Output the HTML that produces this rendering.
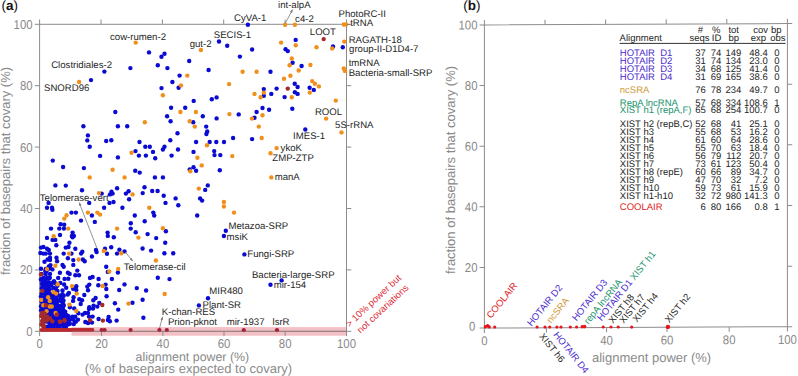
<!DOCTYPE html>
<html><head><meta charset="utf-8"><style>
html,body{margin:0;padding:0;background:#fff;overflow:hidden;width:798px;height:376px;}
svg{display:block;}
text{font-family:"Liberation Sans",sans-serif;text-rendering:geometricPrecision;}
.tk{font-size:11.4px;fill:#8a8a8a;}
.at{font-size:12.6px;fill:#8a8a8a;}
.lb{font-size:9.6px;fill:#262626;}
.rb{font-size:9.5px;}
.tb{font-size:9.5px;}
.an{font-size:9.5px;fill:#e0303a;}
.pl{font-size:13.5px;fill:#111;}
</style></head><body>
<svg width="798" height="376" viewBox="0 0 798 376">
<rect width="798" height="376" fill="#fff"/>
<rect x="71.5" y="327.1" width="275" height="8.6" fill="#eb9aa2" fill-opacity="0.62"/>
<rect x="39.6" y="24.3" width="306.9" height="307" fill="none" stroke="#8c8c8c" stroke-width="1"/>
<line x1="39.6" y1="331.3" x2="39.6" y2="336.1" stroke="#8c8c8c" stroke-width="1"/>
<line x1="39.6" y1="24.3" x2="39.6" y2="19.5" stroke="#8c8c8c" stroke-width="1"/>
<line x1="39.6" y1="331.3" x2="34.8" y2="331.3" stroke="#8c8c8c" stroke-width="1"/>
<line x1="346.5" y1="331.3" x2="351.3" y2="331.3" stroke="#8c8c8c" stroke-width="1"/>
<text transform="translate(32.6,335.8) scale(1,1.12)" text-anchor="end" class="tk">0</text>
<text transform="translate(39.6,348.3) scale(1,1.12)" text-anchor="middle" class="tk">0</text>
<line x1="101.6" y1="331.3" x2="101.6" y2="336.1" stroke="#8c8c8c" stroke-width="1"/>
<line x1="101" y1="24.3" x2="101" y2="19.5" stroke="#8c8c8c" stroke-width="1"/>
<line x1="39.6" y1="269.9" x2="34.8" y2="269.9" stroke="#8c8c8c" stroke-width="1"/>
<line x1="346.5" y1="269.9" x2="351.3" y2="269.9" stroke="#8c8c8c" stroke-width="1"/>
<text transform="translate(32.6,274.4) scale(1,1.12)" text-anchor="end" class="tk">20</text>
<text transform="translate(101.6,348.3) scale(1,1.12)" text-anchor="middle" class="tk">20</text>
<line x1="162.9" y1="331.3" x2="162.9" y2="336.1" stroke="#8c8c8c" stroke-width="1"/>
<line x1="162.4" y1="24.3" x2="162.4" y2="19.5" stroke="#8c8c8c" stroke-width="1"/>
<line x1="39.6" y1="208.5" x2="34.8" y2="208.5" stroke="#8c8c8c" stroke-width="1"/>
<line x1="346.5" y1="208.5" x2="351.3" y2="208.5" stroke="#8c8c8c" stroke-width="1"/>
<text transform="translate(32.6,213) scale(1,1.12)" text-anchor="end" class="tk">40</text>
<text transform="translate(162.9,348.3) scale(1,1.12)" text-anchor="middle" class="tk">40</text>
<line x1="224" y1="331.3" x2="224" y2="336.1" stroke="#8c8c8c" stroke-width="1"/>
<line x1="223.7" y1="24.3" x2="223.7" y2="19.5" stroke="#8c8c8c" stroke-width="1"/>
<line x1="39.6" y1="147.1" x2="34.8" y2="147.1" stroke="#8c8c8c" stroke-width="1"/>
<line x1="346.5" y1="147.1" x2="351.3" y2="147.1" stroke="#8c8c8c" stroke-width="1"/>
<text transform="translate(32.6,151.6) scale(1,1.12)" text-anchor="end" class="tk">60</text>
<text transform="translate(224,348.3) scale(1,1.12)" text-anchor="middle" class="tk">60</text>
<line x1="285.2" y1="331.3" x2="285.2" y2="336.1" stroke="#8c8c8c" stroke-width="1"/>
<line x1="285.1" y1="24.3" x2="285.1" y2="19.5" stroke="#8c8c8c" stroke-width="1"/>
<line x1="39.6" y1="85.7" x2="34.8" y2="85.7" stroke="#8c8c8c" stroke-width="1"/>
<line x1="346.5" y1="85.7" x2="351.3" y2="85.7" stroke="#8c8c8c" stroke-width="1"/>
<text transform="translate(32.6,90.2) scale(1,1.12)" text-anchor="end" class="tk">80</text>
<text transform="translate(285.2,348.3) scale(1,1.12)" text-anchor="middle" class="tk">80</text>
<line x1="346.5" y1="331.3" x2="346.5" y2="336.1" stroke="#8c8c8c" stroke-width="1"/>
<line x1="346.5" y1="24.3" x2="346.5" y2="19.5" stroke="#8c8c8c" stroke-width="1"/>
<line x1="39.6" y1="24.3" x2="34.8" y2="24.3" stroke="#8c8c8c" stroke-width="1"/>
<line x1="346.5" y1="24.3" x2="351.3" y2="24.3" stroke="#8c8c8c" stroke-width="1"/>
<text transform="translate(32.6,28.8) scale(1,1.12)" text-anchor="end" class="tk">100</text>
<text transform="translate(346.5,348.3) scale(1,1.12)" text-anchor="middle" class="tk">100</text>
<g>
<circle cx="41" cy="279.2" r="2.2" fill="#0a0ad2"/>
<circle cx="44.4" cy="278.8" r="2.2" fill="#0a0ad2"/>
<circle cx="47.1" cy="278.4" r="2.2" fill="#0a0ad2"/>
<circle cx="49.3" cy="278.4" r="2.2" fill="#0a0ad2"/>
<circle cx="43.4" cy="280.9" r="2.2" fill="#0a0ad2"/>
<circle cx="45.9" cy="282.1" r="2.2" fill="#0a0ad2"/>
<circle cx="48.4" cy="282.1" r="2.2" fill="#0a0ad2"/>
<circle cx="42" cy="283.6" r="2.2" fill="#0a0ad2"/>
<circle cx="43.8" cy="283.6" r="2.2" fill="#0a0ad2"/>
<circle cx="46.7" cy="284" r="2.2" fill="#0a0ad2"/>
<circle cx="49.7" cy="283.9" r="2.2" fill="#0a0ad2"/>
<circle cx="42.3" cy="285.9" r="2.2" fill="#0a0ad2"/>
<circle cx="45.6" cy="286" r="2.2" fill="#0a0ad2"/>
<circle cx="48.4" cy="286" r="2.2" fill="#0a0ad2"/>
<circle cx="41.8" cy="288.4" r="2.2" fill="#0a0ad2"/>
<circle cx="44.3" cy="289.3" r="2.2" fill="#0a0ad2"/>
<circle cx="46.8" cy="289.4" r="2.2" fill="#0a0ad2"/>
<circle cx="49.8" cy="289.1" r="2.2" fill="#0a0ad2"/>
<circle cx="42.9" cy="290.5" r="2.2" fill="#0a0ad2"/>
<circle cx="46.1" cy="291.3" r="2.2" fill="#0a0ad2"/>
<circle cx="48.2" cy="291.5" r="2.2" fill="#0a0ad2"/>
<circle cx="41.6" cy="293.6" r="2.2" fill="#0a0ad2"/>
<circle cx="44.9" cy="293.6" r="2.2" fill="#0a0ad2"/>
<circle cx="46.5" cy="293.9" r="2.2" fill="#0a0ad2"/>
<circle cx="50.6" cy="294.1" r="2.2" fill="#0a0ad2"/>
<circle cx="49.8" cy="283.2" r="2.2" fill="#0a0ad2"/>
<circle cx="52.9" cy="282.5" r="2.2" fill="#0a0ad2"/>
<circle cx="55.4" cy="283.4" r="2.2" fill="#0a0ad2"/>
<circle cx="51.1" cy="285.5" r="2.2" fill="#0a0ad2"/>
<circle cx="57.4" cy="285.7" r="2.2" fill="#0a0ad2"/>
<circle cx="53.5" cy="287.9" r="2.2" fill="#0a0ad2"/>
<circle cx="55.8" cy="288.8" r="2.2" fill="#0a0ad2"/>
<circle cx="54" cy="290.5" r="2.2" fill="#0a0ad2"/>
<circle cx="57.5" cy="291" r="2.2" fill="#0a0ad2"/>
<circle cx="49.3" cy="293.3" r="2.2" fill="#0a0ad2"/>
<circle cx="53.1" cy="294.1" r="2.2" fill="#0a0ad2"/>
<circle cx="56" cy="293.6" r="2.2" fill="#0a0ad2"/>
<circle cx="40.9" cy="296.6" r="2.2" fill="#0a0ad2"/>
<circle cx="44.8" cy="296.4" r="2.2" fill="#0a0ad2"/>
<circle cx="47" cy="295.4" r="2.2" fill="#0a0ad2"/>
<circle cx="49.3" cy="295.4" r="2.2" fill="#0a0ad2"/>
<circle cx="52.2" cy="295.8" r="2.2" fill="#0a0ad2"/>
<circle cx="54.8" cy="295.5" r="2.2" fill="#0a0ad2"/>
<circle cx="58.1" cy="295.3" r="2.2" fill="#0a0ad2"/>
<circle cx="61.3" cy="295.5" r="2.2" fill="#0a0ad2"/>
<circle cx="63.7" cy="295.8" r="2.2" fill="#0a0ad2"/>
<circle cx="43.4" cy="299.1" r="2.2" fill="#0a0ad2"/>
<circle cx="45.7" cy="297.9" r="2.2" fill="#0a0ad2"/>
<circle cx="48.3" cy="298.1" r="2.2" fill="#0a0ad2"/>
<circle cx="50.8" cy="297.8" r="2.2" fill="#0a0ad2"/>
<circle cx="54.1" cy="297.9" r="2.2" fill="#0a0ad2"/>
<circle cx="56.2" cy="298.5" r="2.2" fill="#0a0ad2"/>
<circle cx="60.2" cy="298.7" r="2.2" fill="#0a0ad2"/>
<circle cx="62.3" cy="298" r="2.2" fill="#0a0ad2"/>
<circle cx="41.5" cy="301.3" r="2.2" fill="#0a0ad2"/>
<circle cx="43.9" cy="301.3" r="2.2" fill="#0a0ad2"/>
<circle cx="47.6" cy="301.3" r="2.2" fill="#0a0ad2"/>
<circle cx="50.2" cy="300.5" r="2.2" fill="#0a0ad2"/>
<circle cx="52.5" cy="300.2" r="2.2" fill="#0a0ad2"/>
<circle cx="55.2" cy="300.5" r="2.2" fill="#0a0ad2"/>
<circle cx="58.9" cy="300.8" r="2.2" fill="#0a0ad2"/>
<circle cx="61.8" cy="301.5" r="2.2" fill="#0a0ad2"/>
<circle cx="63.5" cy="300.5" r="2.2" fill="#0a0ad2"/>
<circle cx="42.5" cy="303.5" r="2.2" fill="#0a0ad2"/>
<circle cx="46.2" cy="303.3" r="2.2" fill="#0a0ad2"/>
<circle cx="48.9" cy="302.7" r="2.2" fill="#0a0ad2"/>
<circle cx="51.9" cy="303.7" r="2.2" fill="#0a0ad2"/>
<circle cx="54.1" cy="302.9" r="2.2" fill="#0a0ad2"/>
<circle cx="56.7" cy="303.7" r="2.2" fill="#0a0ad2"/>
<circle cx="62.8" cy="302.8" r="2.2" fill="#0a0ad2"/>
<circle cx="41" cy="306.3" r="2.2" fill="#0a0ad2"/>
<circle cx="43.8" cy="306.2" r="2.2" fill="#0a0ad2"/>
<circle cx="47.3" cy="305.5" r="2.2" fill="#0a0ad2"/>
<circle cx="49.4" cy="305.1" r="2.2" fill="#0a0ad2"/>
<circle cx="52.9" cy="305.8" r="2.2" fill="#0a0ad2"/>
<circle cx="55.4" cy="306.3" r="2.2" fill="#0a0ad2"/>
<circle cx="57.9" cy="305.4" r="2.2" fill="#0a0ad2"/>
<circle cx="60.7" cy="305.9" r="2.2" fill="#0a0ad2"/>
<circle cx="63.8" cy="305.2" r="2.2" fill="#0a0ad2"/>
<circle cx="42.7" cy="308.1" r="2.2" fill="#0a0ad2"/>
<circle cx="46.3" cy="308.1" r="2.2" fill="#0a0ad2"/>
<circle cx="48.5" cy="308.2" r="2.2" fill="#0a0ad2"/>
<circle cx="50.6" cy="308.1" r="2.2" fill="#0a0ad2"/>
<circle cx="53.4" cy="308.6" r="2.2" fill="#0a0ad2"/>
<circle cx="56.9" cy="308.5" r="2.2" fill="#0a0ad2"/>
<circle cx="59.5" cy="308.2" r="2.2" fill="#0a0ad2"/>
<circle cx="62.9" cy="307.6" r="2.2" fill="#0a0ad2"/>
<circle cx="41.1" cy="310.3" r="2.2" fill="#0a0ad2"/>
<circle cx="44.3" cy="310.7" r="2.2" fill="#0a0ad2"/>
<circle cx="47.7" cy="310.5" r="2.2" fill="#0a0ad2"/>
<circle cx="49.9" cy="310.6" r="2.2" fill="#0a0ad2"/>
<circle cx="52.6" cy="310.7" r="2.2" fill="#0a0ad2"/>
<circle cx="56.1" cy="310.9" r="2.2" fill="#0a0ad2"/>
<circle cx="58.9" cy="310.3" r="2.2" fill="#0a0ad2"/>
<circle cx="61.7" cy="311.1" r="2.2" fill="#0a0ad2"/>
<circle cx="63.4" cy="310.5" r="2.2" fill="#0a0ad2"/>
<circle cx="45.6" cy="311.4" r="2.2" fill="#0a0ad2"/>
<circle cx="49.2" cy="312.6" r="2.2" fill="#0a0ad2"/>
<circle cx="51.9" cy="312.2" r="2.2" fill="#0a0ad2"/>
<circle cx="54.9" cy="312.7" r="2.2" fill="#0a0ad2"/>
<circle cx="57.8" cy="311.9" r="2.2" fill="#0a0ad2"/>
<circle cx="60.7" cy="312.5" r="2.2" fill="#0a0ad2"/>
<circle cx="62.7" cy="312" r="2.2" fill="#0a0ad2"/>
<circle cx="65.2" cy="311.7" r="2.2" fill="#0a0ad2"/>
<circle cx="46.7" cy="314.5" r="2.2" fill="#0a0ad2"/>
<circle cx="49.5" cy="314.2" r="2.2" fill="#0a0ad2"/>
<circle cx="53" cy="313.8" r="2.2" fill="#0a0ad2"/>
<circle cx="58.3" cy="313.8" r="2.2" fill="#0a0ad2"/>
<circle cx="61.1" cy="313.9" r="2.2" fill="#0a0ad2"/>
<circle cx="64.8" cy="314.9" r="2.2" fill="#0a0ad2"/>
<circle cx="66.5" cy="315" r="2.2" fill="#0a0ad2"/>
<circle cx="46.3" cy="316.3" r="2.2" fill="#0a0ad2"/>
<circle cx="49.1" cy="316.8" r="2.2" fill="#0a0ad2"/>
<circle cx="52.2" cy="317.1" r="2.2" fill="#0a0ad2"/>
<circle cx="53.8" cy="317.4" r="2.2" fill="#0a0ad2"/>
<circle cx="57.7" cy="316.8" r="2.2" fill="#0a0ad2"/>
<circle cx="60.1" cy="317.5" r="2.2" fill="#0a0ad2"/>
<circle cx="62.3" cy="316.9" r="2.2" fill="#0a0ad2"/>
<circle cx="65.1" cy="316.4" r="2.2" fill="#0a0ad2"/>
<circle cx="47" cy="319" r="2.2" fill="#0a0ad2"/>
<circle cx="50.6" cy="319" r="2.2" fill="#0a0ad2"/>
<circle cx="52.5" cy="319.1" r="2.2" fill="#0a0ad2"/>
<circle cx="55.5" cy="318.6" r="2.2" fill="#0a0ad2"/>
<circle cx="58.7" cy="318.9" r="2.2" fill="#0a0ad2"/>
<circle cx="62" cy="318.8" r="2.2" fill="#0a0ad2"/>
<circle cx="64.1" cy="319.3" r="2.2" fill="#0a0ad2"/>
<circle cx="66.9" cy="319.3" r="2.2" fill="#0a0ad2"/>
<circle cx="46.7" cy="321.5" r="2.2" fill="#0a0ad2"/>
<circle cx="49.1" cy="321.9" r="2.2" fill="#0a0ad2"/>
<circle cx="51.4" cy="321.1" r="2.2" fill="#0a0ad2"/>
<circle cx="53.8" cy="322.1" r="2.2" fill="#0a0ad2"/>
<circle cx="56.7" cy="321.2" r="2.2" fill="#0a0ad2"/>
<circle cx="60.5" cy="322" r="2.2" fill="#0a0ad2"/>
<circle cx="62.4" cy="321.5" r="2.2" fill="#0a0ad2"/>
<circle cx="65.1" cy="321.7" r="2.2" fill="#0a0ad2"/>
<circle cx="49.8" cy="324.8" r="2.2" fill="#0a0ad2"/>
<circle cx="52.8" cy="323.5" r="2.2" fill="#0a0ad2"/>
<circle cx="55.8" cy="324.2" r="2.2" fill="#0a0ad2"/>
<circle cx="58.6" cy="323.5" r="2.2" fill="#0a0ad2"/>
<circle cx="60.8" cy="324" r="2.2" fill="#0a0ad2"/>
<circle cx="63.5" cy="323.9" r="2.2" fill="#0a0ad2"/>
<circle cx="67.1" cy="324.2" r="2.2" fill="#0a0ad2"/>
<circle cx="46.2" cy="326.9" r="2.2" fill="#0a0ad2"/>
<circle cx="48.6" cy="326.4" r="2.2" fill="#0a0ad2"/>
<circle cx="51.1" cy="326.9" r="2.2" fill="#0a0ad2"/>
<circle cx="53.8" cy="327.1" r="2.2" fill="#0a0ad2"/>
<circle cx="57.4" cy="326.9" r="2.2" fill="#0a0ad2"/>
<circle cx="59.5" cy="326.6" r="2.2" fill="#0a0ad2"/>
<circle cx="63.3" cy="327" r="2.2" fill="#0a0ad2"/>
<circle cx="65.7" cy="327.2" r="2.2" fill="#0a0ad2"/>
<circle cx="66.3" cy="316.1" r="2.2" fill="#0a0ad2"/>
<circle cx="68.5" cy="316.3" r="2.2" fill="#0a0ad2"/>
<circle cx="72.5" cy="316.6" r="2.2" fill="#0a0ad2"/>
<circle cx="75.2" cy="316.8" r="2.2" fill="#0a0ad2"/>
<circle cx="66.8" cy="319.5" r="2.2" fill="#0a0ad2"/>
<circle cx="70.5" cy="319.2" r="2.2" fill="#0a0ad2"/>
<circle cx="72.9" cy="319.4" r="2.2" fill="#0a0ad2"/>
<circle cx="65.4" cy="321.4" r="2.2" fill="#0a0ad2"/>
<circle cx="68.6" cy="322.1" r="2.2" fill="#0a0ad2"/>
<circle cx="74.8" cy="321.7" r="2.2" fill="#0a0ad2"/>
<circle cx="67.9" cy="324.5" r="2.2" fill="#0a0ad2"/>
<circle cx="69.9" cy="323.8" r="2.2" fill="#0a0ad2"/>
<circle cx="73.8" cy="324.1" r="2.2" fill="#0a0ad2"/>
<circle cx="44.5" cy="261.7" r="2.2" fill="#0a0ad2"/>
<circle cx="50.5" cy="265.1" r="2.2" fill="#0a0ad2"/>
<circle cx="41" cy="268.8" r="2.2" fill="#0a0ad2"/>
<circle cx="45.8" cy="268.9" r="2.2" fill="#0a0ad2"/>
<circle cx="48.6" cy="268.7" r="2.2" fill="#0a0ad2"/>
<circle cx="46.6" cy="271" r="2.2" fill="#0a0ad2"/>
<circle cx="41.6" cy="274" r="2.2" fill="#0a0ad2"/>
<circle cx="45.7" cy="274" r="2.2" fill="#0a0ad2"/>
<circle cx="43.8" cy="277.9" r="2.2" fill="#0a0ad2"/>
<circle cx="47.5" cy="277.6" r="2.2" fill="#0a0ad2"/>
<circle cx="49.8" cy="277.6" r="2.2" fill="#0a0ad2"/>
<circle cx="149" cy="52.4" r="2.2" fill="#0a0ad2"/>
<circle cx="164.5" cy="53.8" r="2.2" fill="#0a0ad2"/>
<circle cx="161.5" cy="56.7" r="2.2" fill="#0a0ad2"/>
<circle cx="157.8" cy="65.2" r="2.2" fill="#0a0ad2"/>
<circle cx="167.4" cy="68.1" r="2.2" fill="#0a0ad2"/>
<circle cx="130.4" cy="68.1" r="2.2" fill="#0a0ad2"/>
<circle cx="104.4" cy="71.6" r="2.2" fill="#0a0ad2"/>
<circle cx="91" cy="80.1" r="2.2" fill="#0a0ad2"/>
<circle cx="189.2" cy="61" r="2.2" fill="#0a0ad2"/>
<circle cx="219" cy="41.5" r="2.2" fill="#0a0ad2"/>
<circle cx="227.2" cy="45.8" r="2.2" fill="#0a0ad2"/>
<circle cx="208.6" cy="70" r="2.2" fill="#0a0ad2"/>
<circle cx="179.6" cy="75.6" r="2.2" fill="#0a0ad2"/>
<circle cx="172.4" cy="82" r="2.2" fill="#0a0ad2"/>
<circle cx="178.6" cy="87.8" r="2.2" fill="#0a0ad2"/>
<circle cx="161.5" cy="88.1" r="2.2" fill="#0a0ad2"/>
<circle cx="193.7" cy="100.9" r="2.2" fill="#0a0ad2"/>
<circle cx="211.8" cy="99.3" r="2.2" fill="#0a0ad2"/>
<circle cx="216.6" cy="97.4" r="2.2" fill="#0a0ad2"/>
<circle cx="171.1" cy="107.8" r="2.2" fill="#0a0ad2"/>
<circle cx="185.2" cy="107.8" r="2.2" fill="#0a0ad2"/>
<circle cx="115.3" cy="112" r="2.2" fill="#0a0ad2"/>
<circle cx="202.8" cy="116.3" r="2.2" fill="#0a0ad2"/>
<circle cx="238.7" cy="114.4" r="2.2" fill="#0a0ad2"/>
<circle cx="167.1" cy="116.3" r="2.2" fill="#0a0ad2"/>
<circle cx="216.6" cy="118.4" r="2.2" fill="#0a0ad2"/>
<circle cx="247.9" cy="24.7" r="2.2" fill="#0a0ad2"/>
<circle cx="295.7" cy="39.9" r="2.2" fill="#0a0ad2"/>
<circle cx="333" cy="46.5" r="2.2" fill="#0a0ad2"/>
<circle cx="342.8" cy="47.2" r="2.2" fill="#0a0ad2"/>
<circle cx="252.1" cy="49.5" r="2.2" fill="#0a0ad2"/>
<circle cx="285.6" cy="49.2" r="2.2" fill="#0a0ad2"/>
<circle cx="287.8" cy="51.1" r="2.2" fill="#0a0ad2"/>
<circle cx="239.9" cy="56.6" r="2.2" fill="#0a0ad2"/>
<circle cx="292.6" cy="62.8" r="2.2" fill="#0a0ad2"/>
<circle cx="301.6" cy="66" r="2.2" fill="#0a0ad2"/>
<circle cx="270.5" cy="71.8" r="2.2" fill="#0a0ad2"/>
<circle cx="294.7" cy="83.8" r="2.2" fill="#0a0ad2"/>
<circle cx="297.6" cy="87" r="2.2" fill="#0a0ad2"/>
<circle cx="309.6" cy="87.8" r="2.2" fill="#0a0ad2"/>
<circle cx="313.8" cy="89.9" r="2.2" fill="#0a0ad2"/>
<circle cx="276.6" cy="88.6" r="2.2" fill="#0a0ad2"/>
<circle cx="263.8" cy="89.1" r="2.2" fill="#0a0ad2"/>
<circle cx="294.9" cy="92.3" r="2.2" fill="#0a0ad2"/>
<circle cx="297.6" cy="93.9" r="2.2" fill="#0a0ad2"/>
<circle cx="271.3" cy="93.9" r="2.2" fill="#0a0ad2"/>
<circle cx="263.8" cy="95.7" r="2.2" fill="#0a0ad2"/>
<circle cx="284.6" cy="97.1" r="2.2" fill="#0a0ad2"/>
<circle cx="83.4" cy="126.3" r="2.2" fill="#0a0ad2"/>
<circle cx="117.9" cy="126.3" r="2.2" fill="#0a0ad2"/>
<circle cx="127.2" cy="126.3" r="2.2" fill="#0a0ad2"/>
<circle cx="170.6" cy="121.3" r="2.2" fill="#0a0ad2"/>
<circle cx="193.2" cy="122.3" r="2.2" fill="#0a0ad2"/>
<circle cx="206.2" cy="126.6" r="2.2" fill="#0a0ad2"/>
<circle cx="177.5" cy="133.2" r="2.2" fill="#0a0ad2"/>
<circle cx="207.2" cy="131.5" r="2.2" fill="#0a0ad2"/>
<circle cx="206.4" cy="134" r="2.2" fill="#0a0ad2"/>
<circle cx="87.9" cy="135.4" r="2.2" fill="#0a0ad2"/>
<circle cx="87.3" cy="140.4" r="2.2" fill="#0a0ad2"/>
<circle cx="89.7" cy="146.8" r="2.2" fill="#0a0ad2"/>
<circle cx="106.2" cy="141" r="2.2" fill="#0a0ad2"/>
<circle cx="111.3" cy="140.2" r="2.2" fill="#0a0ad2"/>
<circle cx="139.5" cy="142" r="2.2" fill="#0a0ad2"/>
<circle cx="170.3" cy="140.2" r="2.2" fill="#0a0ad2"/>
<circle cx="196.1" cy="142" r="2.2" fill="#0a0ad2"/>
<circle cx="209.7" cy="142" r="2.2" fill="#0a0ad2"/>
<circle cx="216.3" cy="142" r="2.2" fill="#0a0ad2"/>
<circle cx="224" cy="142" r="2.2" fill="#0a0ad2"/>
<circle cx="233.1" cy="138" r="2.2" fill="#0a0ad2"/>
<circle cx="145.3" cy="146.8" r="2.2" fill="#0a0ad2"/>
<circle cx="149.8" cy="146.8" r="2.2" fill="#0a0ad2"/>
<circle cx="135.5" cy="151.1" r="2.2" fill="#0a0ad2"/>
<circle cx="138.9" cy="155.6" r="2.2" fill="#0a0ad2"/>
<circle cx="145.9" cy="155.6" r="2.2" fill="#0a0ad2"/>
<circle cx="153" cy="151.9" r="2.2" fill="#0a0ad2"/>
<circle cx="155.2" cy="158.2" r="2.2" fill="#0a0ad2"/>
<circle cx="162.9" cy="149.5" r="2.2" fill="#0a0ad2"/>
<circle cx="164.5" cy="146.8" r="2.2" fill="#0a0ad2"/>
<circle cx="178" cy="149.5" r="2.2" fill="#0a0ad2"/>
<circle cx="171.6" cy="155.6" r="2.2" fill="#0a0ad2"/>
<circle cx="193.5" cy="151.9" r="2.2" fill="#0a0ad2"/>
<circle cx="214.2" cy="151.1" r="2.2" fill="#0a0ad2"/>
<circle cx="214.5" cy="155.1" r="2.2" fill="#0a0ad2"/>
<circle cx="220.3" cy="155.1" r="2.2" fill="#0a0ad2"/>
<circle cx="52.8" cy="160.6" r="2.2" fill="#0a0ad2"/>
<circle cx="100.1" cy="155.9" r="2.2" fill="#0a0ad2"/>
<circle cx="117.9" cy="157.4" r="2.2" fill="#0a0ad2"/>
<circle cx="63.1" cy="167" r="2.2" fill="#0a0ad2"/>
<circle cx="83.9" cy="168.1" r="2.2" fill="#0a0ad2"/>
<circle cx="135.2" cy="170.7" r="2.2" fill="#0a0ad2"/>
<circle cx="139.7" cy="172.6" r="2.2" fill="#0a0ad2"/>
<circle cx="154.9" cy="177.4" r="2.2" fill="#0a0ad2"/>
<circle cx="162.9" cy="177.4" r="2.2" fill="#0a0ad2"/>
<circle cx="193.5" cy="167.3" r="2.2" fill="#0a0ad2"/>
<circle cx="189.7" cy="169.4" r="2.2" fill="#0a0ad2"/>
<circle cx="196.1" cy="170.7" r="2.2" fill="#0a0ad2"/>
<circle cx="219.8" cy="170.2" r="2.2" fill="#0a0ad2"/>
<circle cx="55.4" cy="185.4" r="2.2" fill="#0a0ad2"/>
<circle cx="65.8" cy="185.6" r="2.2" fill="#0a0ad2"/>
<circle cx="82" cy="190.2" r="2.2" fill="#0a0ad2"/>
<circle cx="117.1" cy="188.3" r="2.2" fill="#0a0ad2"/>
<circle cx="111.5" cy="191.8" r="2.2" fill="#0a0ad2"/>
<circle cx="112.6" cy="193.6" r="2.2" fill="#0a0ad2"/>
<circle cx="110" cy="194.4" r="2.2" fill="#0a0ad2"/>
<circle cx="101.7" cy="193.6" r="2.2" fill="#0a0ad2"/>
<circle cx="125.9" cy="193.6" r="2.2" fill="#0a0ad2"/>
<circle cx="128.6" cy="191.2" r="2.2" fill="#0a0ad2"/>
<circle cx="144.5" cy="187.2" r="2.2" fill="#0a0ad2"/>
<circle cx="142.7" cy="193.1" r="2.2" fill="#0a0ad2"/>
<circle cx="152.2" cy="191" r="2.2" fill="#0a0ad2"/>
<circle cx="157.6" cy="191" r="2.2" fill="#0a0ad2"/>
<circle cx="163.7" cy="195.7" r="2.2" fill="#0a0ad2"/>
<circle cx="175.6" cy="198.4" r="2.2" fill="#0a0ad2"/>
<circle cx="207.8" cy="185.4" r="2.2" fill="#0a0ad2"/>
<circle cx="205.2" cy="189.9" r="2.2" fill="#0a0ad2"/>
<circle cx="200.1" cy="198.4" r="2.2" fill="#0a0ad2"/>
<circle cx="129.1" cy="199.2" r="2.2" fill="#0a0ad2"/>
<circle cx="262.5" cy="108" r="2.2" fill="#0a0ad2"/>
<circle cx="256.6" cy="112" r="2.2" fill="#0a0ad2"/>
<circle cx="269.1" cy="109.8" r="2.2" fill="#0a0ad2"/>
<circle cx="292.3" cy="108.8" r="2.2" fill="#0a0ad2"/>
<circle cx="254.5" cy="117.8" r="2.2" fill="#0a0ad2"/>
<circle cx="252.1" cy="139.1" r="2.2" fill="#0a0ad2"/>
<circle cx="305.3" cy="129.5" r="2.2" fill="#0a0ad2"/>
<circle cx="225.8" cy="230.7" r="2.2" fill="#0a0ad2"/>
<circle cx="223.9" cy="236" r="2.2" fill="#0a0ad2"/>
<circle cx="244.4" cy="254.4" r="2.2" fill="#0a0ad2"/>
<circle cx="281.6" cy="280.4" r="2.2" fill="#0a0ad2"/>
<circle cx="270.5" cy="284.7" r="2.2" fill="#0a0ad2"/>
<circle cx="208" cy="298.2" r="2.2" fill="#0a0ad2"/>
<circle cx="198.9" cy="305.4" r="2.2" fill="#0a0ad2"/>
<circle cx="48.6" cy="202.9" r="2.2" fill="#0a0ad2"/>
<circle cx="47" cy="207.7" r="2.2" fill="#0a0ad2"/>
<circle cx="52" cy="207.7" r="2.2" fill="#0a0ad2"/>
<circle cx="52.4" cy="209.7" r="2.2" fill="#0a0ad2"/>
<circle cx="89.2" cy="202.9" r="2.2" fill="#0a0ad2"/>
<circle cx="109.5" cy="202.9" r="2.2" fill="#0a0ad2"/>
<circle cx="113.5" cy="202" r="2.2" fill="#0a0ad2"/>
<circle cx="104.1" cy="207.7" r="2.2" fill="#0a0ad2"/>
<circle cx="122.4" cy="207.7" r="2.2" fill="#0a0ad2"/>
<circle cx="71.5" cy="212.6" r="2.2" fill="#0a0ad2"/>
<circle cx="75.9" cy="212.6" r="2.2" fill="#0a0ad2"/>
<circle cx="91.9" cy="215.5" r="2.2" fill="#0a0ad2"/>
<circle cx="81" cy="220.6" r="2.2" fill="#0a0ad2"/>
<circle cx="94.8" cy="221.9" r="2.2" fill="#0a0ad2"/>
<circle cx="134.8" cy="215.5" r="2.2" fill="#0a0ad2"/>
<circle cx="130.8" cy="223.2" r="2.2" fill="#0a0ad2"/>
<circle cx="60.6" cy="224.3" r="2.2" fill="#0a0ad2"/>
<circle cx="64.2" cy="224.8" r="2.2" fill="#0a0ad2"/>
<circle cx="51" cy="228.6" r="2.2" fill="#0a0ad2"/>
<circle cx="59.3" cy="228.6" r="2.2" fill="#0a0ad2"/>
<circle cx="63.9" cy="228.6" r="2.2" fill="#0a0ad2"/>
<circle cx="130.7" cy="228.6" r="2.2" fill="#0a0ad2"/>
<circle cx="135.7" cy="232.3" r="2.2" fill="#0a0ad2"/>
<circle cx="107.6" cy="232.6" r="2.2" fill="#0a0ad2"/>
<circle cx="107.8" cy="235.9" r="2.2" fill="#0a0ad2"/>
<circle cx="113.8" cy="237.2" r="2.2" fill="#0a0ad2"/>
<circle cx="60" cy="235" r="2.2" fill="#0a0ad2"/>
<circle cx="72.6" cy="232.6" r="2.2" fill="#0a0ad2"/>
<circle cx="71.9" cy="235.9" r="2.2" fill="#0a0ad2"/>
<circle cx="73.9" cy="235.9" r="2.2" fill="#0a0ad2"/>
<circle cx="72.6" cy="237.2" r="2.2" fill="#0a0ad2"/>
<circle cx="47" cy="237.9" r="2.2" fill="#0a0ad2"/>
<circle cx="52.6" cy="239.9" r="2.2" fill="#0a0ad2"/>
<circle cx="55.3" cy="239.9" r="2.2" fill="#0a0ad2"/>
<circle cx="202.1" cy="200.6" r="2.2" fill="#0a0ad2"/>
<circle cx="165.5" cy="202.9" r="2.2" fill="#0a0ad2"/>
<circle cx="178.3" cy="205.3" r="2.2" fill="#0a0ad2"/>
<circle cx="153.3" cy="212.6" r="2.2" fill="#0a0ad2"/>
<circle cx="154.2" cy="215.5" r="2.2" fill="#0a0ad2"/>
<circle cx="197.2" cy="215.5" r="2.2" fill="#0a0ad2"/>
<circle cx="144.7" cy="221.3" r="2.2" fill="#0a0ad2"/>
<circle cx="165.9" cy="231.2" r="2.2" fill="#0a0ad2"/>
<circle cx="147.6" cy="234.1" r="2.2" fill="#0a0ad2"/>
<circle cx="156.2" cy="238.1" r="2.2" fill="#0a0ad2"/>
<circle cx="165.2" cy="242.7" r="2.2" fill="#0a0ad2"/>
<circle cx="142.6" cy="248.5" r="2.2" fill="#0a0ad2"/>
<circle cx="151.1" cy="250.6" r="2.2" fill="#0a0ad2"/>
<circle cx="164.4" cy="253.3" r="2.2" fill="#0a0ad2"/>
<circle cx="173.2" cy="253.3" r="2.2" fill="#0a0ad2"/>
<circle cx="124.5" cy="251.4" r="2.2" fill="#0a0ad2"/>
<circle cx="157.8" cy="277.8" r="2.2" fill="#0a0ad2"/>
<circle cx="169.5" cy="279.1" r="2.2" fill="#0a0ad2"/>
<circle cx="124.5" cy="284.4" r="2.2" fill="#0a0ad2"/>
<circle cx="136.8" cy="288.1" r="2.2" fill="#0a0ad2"/>
<circle cx="146.1" cy="290.5" r="2.2" fill="#0a0ad2"/>
<circle cx="142.6" cy="299.8" r="2.2" fill="#0a0ad2"/>
<circle cx="132.5" cy="302.8" r="2.2" fill="#0a0ad2"/>
<circle cx="143.4" cy="317.7" r="2.2" fill="#0a0ad2"/>
<circle cx="69.4" cy="242.8" r="2.2" fill="#0a0ad2"/>
<circle cx="56.3" cy="245.2" r="2.2" fill="#0a0ad2"/>
<circle cx="41" cy="247.6" r="2.2" fill="#0a0ad2"/>
<circle cx="43.4" cy="247" r="2.2" fill="#0a0ad2"/>
<circle cx="47" cy="248.8" r="2.2" fill="#0a0ad2"/>
<circle cx="48.8" cy="250" r="2.2" fill="#0a0ad2"/>
<circle cx="40.4" cy="253" r="2.2" fill="#0a0ad2"/>
<circle cx="43.4" cy="253.6" r="2.2" fill="#0a0ad2"/>
<circle cx="45.8" cy="253.6" r="2.2" fill="#0a0ad2"/>
<circle cx="50" cy="253.6" r="2.2" fill="#0a0ad2"/>
<circle cx="65.8" cy="247.6" r="2.2" fill="#0a0ad2"/>
<circle cx="68.5" cy="247" r="2.2" fill="#0a0ad2"/>
<circle cx="75.3" cy="248.8" r="2.2" fill="#0a0ad2"/>
<circle cx="96" cy="250" r="2.2" fill="#0a0ad2"/>
<circle cx="96.6" cy="252.1" r="2.2" fill="#0a0ad2"/>
<circle cx="91.9" cy="256.5" r="2.2" fill="#0a0ad2"/>
<circle cx="105" cy="248.8" r="2.2" fill="#0a0ad2"/>
<circle cx="111.2" cy="247.3" r="2.2" fill="#0a0ad2"/>
<circle cx="107" cy="253.8" r="2.2" fill="#0a0ad2"/>
<circle cx="117" cy="253.6" r="2.2" fill="#0a0ad2"/>
<circle cx="119.4" cy="249.7" r="2.2" fill="#0a0ad2"/>
<circle cx="63.7" cy="253.6" r="2.2" fill="#0a0ad2"/>
<circle cx="71.5" cy="253.6" r="2.2" fill="#0a0ad2"/>
<circle cx="81.1" cy="253.6" r="2.2" fill="#0a0ad2"/>
<circle cx="82.3" cy="251.8" r="2.2" fill="#0a0ad2"/>
<circle cx="50" cy="257.7" r="2.2" fill="#0a0ad2"/>
<circle cx="47.6" cy="259.5" r="2.2" fill="#0a0ad2"/>
<circle cx="50" cy="260.1" r="2.2" fill="#0a0ad2"/>
<circle cx="56.5" cy="257.7" r="2.2" fill="#0a0ad2"/>
<circle cx="57.1" cy="261.3" r="2.2" fill="#0a0ad2"/>
<circle cx="67.9" cy="258.3" r="2.2" fill="#0a0ad2"/>
<circle cx="73.3" cy="260.1" r="2.2" fill="#0a0ad2"/>
<circle cx="82.9" cy="259.5" r="2.2" fill="#0a0ad2"/>
<circle cx="84.7" cy="261.3" r="2.2" fill="#0a0ad2"/>
<circle cx="73.3" cy="264.9" r="2.2" fill="#0a0ad2"/>
<circle cx="62.5" cy="264.9" r="2.2" fill="#0a0ad2"/>
<circle cx="63.7" cy="266.7" r="2.2" fill="#0a0ad2"/>
<circle cx="48.8" cy="266.5" r="2.2" fill="#0a0ad2"/>
<circle cx="50" cy="267.9" r="2.2" fill="#0a0ad2"/>
<circle cx="52.4" cy="269.4" r="2.2" fill="#0a0ad2"/>
<circle cx="45.2" cy="270.9" r="2.2" fill="#0a0ad2"/>
<circle cx="77.3" cy="270.6" r="2.2" fill="#0a0ad2"/>
<circle cx="106.2" cy="266.7" r="2.2" fill="#0a0ad2"/>
<circle cx="107.8" cy="271.9" r="2.2" fill="#0a0ad2"/>
<circle cx="117.9" cy="272.5" r="2.2" fill="#0a0ad2"/>
<circle cx="50" cy="273.9" r="2.2" fill="#0a0ad2"/>
<circle cx="59.9" cy="272.7" r="2.2" fill="#0a0ad2"/>
<circle cx="67.9" cy="272.7" r="2.2" fill="#0a0ad2"/>
<circle cx="69.7" cy="273.9" r="2.2" fill="#0a0ad2"/>
<circle cx="75.3" cy="275.3" r="2.2" fill="#0a0ad2"/>
<circle cx="79" cy="275.3" r="2.2" fill="#0a0ad2"/>
<circle cx="90" cy="278" r="2.2" fill="#0a0ad2"/>
<circle cx="92.6" cy="277" r="2.2" fill="#0a0ad2"/>
<circle cx="98.6" cy="279" r="2.2" fill="#0a0ad2"/>
<circle cx="111.9" cy="279" r="2.2" fill="#0a0ad2"/>
<circle cx="89.3" cy="284.6" r="2.2" fill="#0a0ad2"/>
<circle cx="87.3" cy="286.6" r="2.2" fill="#0a0ad2"/>
<circle cx="98.3" cy="285.3" r="2.2" fill="#0a0ad2"/>
<circle cx="105.6" cy="284.6" r="2.2" fill="#0a0ad2"/>
<circle cx="106.3" cy="289" r="2.2" fill="#0a0ad2"/>
<circle cx="119.2" cy="290" r="2.2" fill="#0a0ad2"/>
<circle cx="88" cy="290.3" r="2.2" fill="#0a0ad2"/>
<circle cx="76.3" cy="286.3" r="2.2" fill="#0a0ad2"/>
<circle cx="76.3" cy="290" r="2.2" fill="#0a0ad2"/>
<circle cx="84.3" cy="295" r="2.2" fill="#0a0ad2"/>
<circle cx="106.6" cy="296.3" r="2.2" fill="#0a0ad2"/>
<circle cx="95.6" cy="298" r="2.2" fill="#0a0ad2"/>
<circle cx="93.3" cy="300.3" r="2.2" fill="#0a0ad2"/>
<circle cx="79.3" cy="299.3" r="2.2" fill="#0a0ad2"/>
<circle cx="82" cy="300.3" r="2.2" fill="#0a0ad2"/>
<circle cx="80.7" cy="304" r="2.2" fill="#0a0ad2"/>
<circle cx="99.3" cy="303" r="2.2" fill="#0a0ad2"/>
<circle cx="97.3" cy="306.6" r="2.2" fill="#0a0ad2"/>
<circle cx="93.6" cy="305.6" r="2.2" fill="#0a0ad2"/>
<circle cx="93" cy="308.6" r="2.2" fill="#0a0ad2"/>
<circle cx="89.3" cy="307.3" r="2.2" fill="#0a0ad2"/>
<circle cx="89" cy="309" r="2.2" fill="#0a0ad2"/>
<circle cx="114.9" cy="303.3" r="2.2" fill="#0a0ad2"/>
<circle cx="118.2" cy="309.6" r="2.2" fill="#0a0ad2"/>
<circle cx="78.3" cy="313.3" r="2.2" fill="#0a0ad2"/>
<circle cx="82.6" cy="314.6" r="2.2" fill="#0a0ad2"/>
<circle cx="85" cy="313" r="2.2" fill="#0a0ad2"/>
<circle cx="88" cy="313" r="2.2" fill="#0a0ad2"/>
<circle cx="89" cy="316.6" r="2.2" fill="#0a0ad2"/>
<circle cx="92.6" cy="316.6" r="2.2" fill="#0a0ad2"/>
<circle cx="78" cy="319.6" r="2.2" fill="#0a0ad2"/>
<circle cx="76" cy="321.6" r="2.2" fill="#0a0ad2"/>
<circle cx="98.6" cy="319" r="2.2" fill="#0a0ad2"/>
<circle cx="108.6" cy="317" r="2.2" fill="#0a0ad2"/>
<circle cx="107.9" cy="320" r="2.2" fill="#0a0ad2"/>
<circle cx="109.9" cy="321.3" r="2.2" fill="#0a0ad2"/>
<circle cx="116.6" cy="320.6" r="2.2" fill="#0a0ad2"/>
<circle cx="85.3" cy="322" r="2.2" fill="#0a0ad2"/>
<circle cx="88" cy="323" r="2.2" fill="#0a0ad2"/>
<circle cx="92" cy="322.6" r="2.2" fill="#0a0ad2"/>
<circle cx="58.2" cy="277.9" r="2.2" fill="#0a0ad2"/>
<circle cx="64.6" cy="278.9" r="2.2" fill="#0a0ad2"/>
<circle cx="68.3" cy="278.7" r="2.2" fill="#0a0ad2"/>
<circle cx="48.6" cy="278.1" r="2.2" fill="#0a0ad2"/>
<circle cx="41.2" cy="279.7" r="2.2" fill="#0a0ad2"/>
<circle cx="44.4" cy="279.2" r="2.2" fill="#0a0ad2"/>
<circle cx="54" cy="281.3" r="2.2" fill="#0a0ad2"/>
<circle cx="60.3" cy="282.9" r="2.2" fill="#0a0ad2"/>
<circle cx="64.1" cy="284.5" r="2.2" fill="#0a0ad2"/>
<circle cx="66.2" cy="287.7" r="2.2" fill="#0a0ad2"/>
<circle cx="73.1" cy="288.8" r="2.2" fill="#0a0ad2"/>
<circle cx="62.5" cy="290.4" r="2.2" fill="#0a0ad2"/>
<circle cx="62.5" cy="294.1" r="2.2" fill="#0a0ad2"/>
<circle cx="68.9" cy="293" r="2.2" fill="#0a0ad2"/>
<circle cx="73.6" cy="297.2" r="2.2" fill="#0a0ad2"/>
<circle cx="73.1" cy="300.9" r="2.2" fill="#0a0ad2"/>
<circle cx="67.8" cy="294.5" r="2.2" fill="#0a0ad2"/>
<circle cx="69.9" cy="307.3" r="2.2" fill="#0a0ad2"/>
<circle cx="74.2" cy="308.4" r="2.2" fill="#0a0ad2"/>
<circle cx="135.7" cy="42.6" r="2.2" fill="#f0901c"/>
<circle cx="79.1" cy="82" r="2.2" fill="#f0901c"/>
<circle cx="200.9" cy="50" r="2.2" fill="#f0901c"/>
<circle cx="187.3" cy="75.6" r="2.2" fill="#f0901c"/>
<circle cx="181" cy="85.4" r="2.2" fill="#f0901c"/>
<circle cx="162.9" cy="95.3" r="2.2" fill="#f0901c"/>
<circle cx="229.1" cy="84.1" r="2.2" fill="#f0901c"/>
<circle cx="180.4" cy="112" r="2.2" fill="#f0901c"/>
<circle cx="195.9" cy="112" r="2.2" fill="#f0901c"/>
<circle cx="229.4" cy="114.1" r="2.2" fill="#f0901c"/>
<circle cx="285.1" cy="24.7" r="2.2" fill="#f0901c"/>
<circle cx="294.9" cy="24.7" r="2.2" fill="#f0901c"/>
<circle cx="343.8" cy="24.5" r="2.2" fill="#f0901c"/>
<circle cx="346" cy="24.5" r="2.2" fill="#f0901c"/>
<circle cx="281.1" cy="42.6" r="2.2" fill="#f0901c"/>
<circle cx="295.7" cy="45.2" r="2.2" fill="#f0901c"/>
<circle cx="316.5" cy="47.3" r="2.2" fill="#f0901c"/>
<circle cx="332.2" cy="48.4" r="2.2" fill="#f0901c"/>
<circle cx="344.3" cy="41.6" r="2.2" fill="#f0901c"/>
<circle cx="291.8" cy="58.5" r="2.2" fill="#f0901c"/>
<circle cx="289.6" cy="65.2" r="2.2" fill="#f0901c"/>
<circle cx="310.4" cy="64.9" r="2.2" fill="#f0901c"/>
<circle cx="298.7" cy="70.5" r="2.2" fill="#f0901c"/>
<circle cx="256.6" cy="71.8" r="2.2" fill="#f0901c"/>
<circle cx="242.6" cy="71.8" r="2.2" fill="#f0901c"/>
<circle cx="290.4" cy="75.8" r="2.2" fill="#f0901c"/>
<circle cx="284" cy="78.7" r="2.2" fill="#f0901c"/>
<circle cx="343.8" cy="68.5" r="2.2" fill="#f0901c"/>
<circle cx="344.9" cy="70.9" r="2.2" fill="#f0901c"/>
<circle cx="312.2" cy="81.1" r="2.2" fill="#f0901c"/>
<circle cx="314.9" cy="83.8" r="2.2" fill="#f0901c"/>
<circle cx="318.9" cy="86.4" r="2.2" fill="#f0901c"/>
<circle cx="309.8" cy="92.6" r="2.2" fill="#f0901c"/>
<circle cx="263.8" cy="92.6" r="2.2" fill="#f0901c"/>
<circle cx="254.5" cy="93.9" r="2.2" fill="#f0901c"/>
<circle cx="260.6" cy="97.3" r="2.2" fill="#f0901c"/>
<circle cx="291.8" cy="97.3" r="2.2" fill="#f0901c"/>
<circle cx="335.8" cy="100.6" r="2.2" fill="#f0901c"/>
<circle cx="144.8" cy="122.3" r="2.2" fill="#f0901c"/>
<circle cx="189.7" cy="121.3" r="2.2" fill="#f0901c"/>
<circle cx="194.8" cy="126.6" r="2.2" fill="#f0901c"/>
<circle cx="207" cy="145.2" r="2.2" fill="#f0901c"/>
<circle cx="131.5" cy="152.7" r="2.2" fill="#f0901c"/>
<circle cx="197.4" cy="157.7" r="2.2" fill="#f0901c"/>
<circle cx="232.3" cy="156.1" r="2.2" fill="#f0901c"/>
<circle cx="112.6" cy="169.7" r="2.2" fill="#f0901c"/>
<circle cx="89.7" cy="177.4" r="2.2" fill="#f0901c"/>
<circle cx="124.6" cy="177.4" r="2.2" fill="#f0901c"/>
<circle cx="201.7" cy="165.4" r="2.2" fill="#f0901c"/>
<circle cx="190.3" cy="171.3" r="2.2" fill="#f0901c"/>
<circle cx="99" cy="193.1" r="2.2" fill="#f0901c"/>
<circle cx="132.6" cy="194.4" r="2.2" fill="#f0901c"/>
<circle cx="198.8" cy="188.6" r="2.2" fill="#f0901c"/>
<circle cx="262.5" cy="115.2" r="2.2" fill="#f0901c"/>
<circle cx="251.9" cy="118.6" r="2.2" fill="#f0901c"/>
<circle cx="258.8" cy="126.6" r="2.2" fill="#f0901c"/>
<circle cx="261.7" cy="138" r="2.2" fill="#f0901c"/>
<circle cx="326.1" cy="118.6" r="2.2" fill="#f0901c"/>
<circle cx="341.5" cy="132.4" r="2.2" fill="#f0901c"/>
<circle cx="276.6" cy="148.1" r="2.2" fill="#f0901c"/>
<circle cx="270.5" cy="153.2" r="2.2" fill="#f0901c"/>
<circle cx="271.3" cy="177.4" r="2.2" fill="#f0901c"/>
<circle cx="223.9" cy="202" r="2.2" fill="#f0901c"/>
<circle cx="223.9" cy="206.5" r="2.2" fill="#f0901c"/>
<circle cx="234" cy="212.6" r="2.2" fill="#f0901c"/>
<circle cx="87.9" cy="212.6" r="2.2" fill="#f0901c"/>
<circle cx="97.4" cy="212.6" r="2.2" fill="#f0901c"/>
<circle cx="100.1" cy="214.6" r="2.2" fill="#f0901c"/>
<circle cx="66.6" cy="215.3" r="2.2" fill="#f0901c"/>
<circle cx="64.3" cy="218.6" r="2.2" fill="#f0901c"/>
<circle cx="68.2" cy="228.6" r="2.2" fill="#f0901c"/>
<circle cx="117.1" cy="228.6" r="2.2" fill="#f0901c"/>
<circle cx="53.7" cy="236.3" r="2.2" fill="#f0901c"/>
<circle cx="138.4" cy="237.6" r="2.2" fill="#f0901c"/>
<circle cx="149.3" cy="207.7" r="2.2" fill="#f0901c"/>
<circle cx="162.9" cy="228.3" r="2.2" fill="#f0901c"/>
<circle cx="121.3" cy="253.3" r="2.2" fill="#f0901c"/>
<circle cx="155.9" cy="260.5" r="2.2" fill="#f0901c"/>
<circle cx="164.7" cy="294" r="2.2" fill="#f0901c"/>
<circle cx="128.5" cy="303.6" r="2.2" fill="#f0901c"/>
<circle cx="103.8" cy="250.9" r="2.2" fill="#f0901c"/>
<circle cx="69.1" cy="253.6" r="2.2" fill="#f0901c"/>
<circle cx="78.7" cy="259.5" r="2.2" fill="#f0901c"/>
<circle cx="55.4" cy="265.8" r="2.2" fill="#f0901c"/>
<circle cx="47" cy="269.1" r="2.2" fill="#f0901c"/>
<circle cx="109.2" cy="271.5" r="2.2" fill="#f0901c"/>
<circle cx="118.2" cy="268.9" r="2.2" fill="#f0901c"/>
<circle cx="102.6" cy="286" r="2.2" fill="#f0901c"/>
<circle cx="76.7" cy="293.6" r="2.2" fill="#f0901c"/>
<circle cx="76.3" cy="311" r="2.2" fill="#f0901c"/>
<circle cx="57.7" cy="284.2" r="2.2" fill="#f0901c"/>
<circle cx="72" cy="286.1" r="2.2" fill="#f0901c"/>
<circle cx="53.4" cy="292" r="2.2" fill="#f0901c"/>
<circle cx="56.1" cy="293.6" r="2.2" fill="#f0901c"/>
<circle cx="48.1" cy="297.2" r="2.2" fill="#f0901c"/>
<circle cx="41.2" cy="299.9" r="2.2" fill="#f0901c"/>
<circle cx="49.7" cy="300.9" r="2.2" fill="#f0901c"/>
<circle cx="43.3" cy="305.2" r="2.2" fill="#f0901c"/>
<circle cx="49.7" cy="306.5" r="2.2" fill="#f0901c"/>
<circle cx="51.8" cy="306.5" r="2.2" fill="#f0901c"/>
<circle cx="46.5" cy="311.3" r="2.2" fill="#f0901c"/>
<circle cx="55.6" cy="312.9" r="2.2" fill="#f0901c"/>
<circle cx="69.4" cy="304.6" r="2.2" fill="#f0901c"/>
<circle cx="41.2" cy="316" r="2.2" fill="#a52a2a"/>
<circle cx="43.6" cy="317" r="2.2" fill="#a52a2a"/>
<circle cx="43.1" cy="319.1" r="2.2" fill="#a52a2a"/>
<circle cx="42.1" cy="321" r="2.2" fill="#a52a2a"/>
<circle cx="43.6" cy="320.5" r="2.2" fill="#a52a2a"/>
<circle cx="43.4" cy="322.9" r="2.2" fill="#a52a2a"/>
<circle cx="41.4" cy="324.5" r="2.2" fill="#a52a2a"/>
<circle cx="43.3" cy="325.3" r="2.2" fill="#a52a2a"/>
<circle cx="43.3" cy="326.6" r="2.2" fill="#a52a2a"/>
<circle cx="42" cy="312.9" r="2.2" fill="#a52a2a"/>
<circle cx="44.8" cy="313.8" r="2.2" fill="#a52a2a"/>
<circle cx="47.2" cy="316.6" r="2.2" fill="#a52a2a"/>
<circle cx="50" cy="318.5" r="2.2" fill="#a52a2a"/>
<circle cx="52.3" cy="321.3" r="2.2" fill="#a52a2a"/>
<circle cx="47.2" cy="320.3" r="2.2" fill="#a52a2a"/>
<circle cx="56.9" cy="314.7" r="2.2" fill="#a52a2a"/>
<circle cx="60.2" cy="321.7" r="2.2" fill="#a52a2a"/>
<circle cx="64.4" cy="320.3" r="2.2" fill="#a52a2a"/>
<circle cx="44" cy="326.5" r="2.2" fill="#a52a2a"/>
<circle cx="323.7" cy="39.1" r="2.2" fill="#a52a2a"/>
<circle cx="287.8" cy="88.6" r="2.2" fill="#a52a2a"/>
<circle cx="243.8" cy="330.2" r="2.1" fill="#a51c36"/>
<circle cx="277" cy="330.2" r="2.1" fill="#a51c36"/>
<circle cx="130.6" cy="330.1" r="2.1" fill="#a51c36"/>
<circle cx="159.4" cy="330.1" r="2.1" fill="#a51c36"/>
<circle cx="166.8" cy="330.1" r="2.1" fill="#a51c36"/>
<circle cx="41" cy="274.5" r="2.2" fill="#a52a2a"/>
<circle cx="102.3" cy="305" r="2.2" fill="#a52a2a"/>
<circle cx="102.9" cy="320.6" r="2.2" fill="#a52a2a"/>
<circle cx="90" cy="320.3" r="2.2" fill="#a52a2a"/>
<circle cx="42.3" cy="290.9" r="2.2" fill="#a52a2a"/>
<circle cx="46" cy="305.2" r="2.2" fill="#a52a2a"/>
<circle cx="43.3" cy="312.9" r="2.2" fill="#a52a2a"/>
<circle cx="59.8" cy="321.6" r="2.2" fill="#a52a2a"/>
<circle cx="64.6" cy="320.5" r="2.2" fill="#a52a2a"/>
<circle cx="101.6" cy="330.1" r="2.1" fill="#a51c36"/>
<circle cx="104.6" cy="330.1" r="2.1" fill="#a51c36"/>
<circle cx="41.5" cy="329.9" r="1.9" fill="#bb2a2e"/>
<circle cx="43" cy="329.9" r="1.9" fill="#bb2a2e"/>
<circle cx="44.5" cy="329.9" r="1.9" fill="#bb2a2e"/>
<circle cx="46" cy="329.9" r="1.9" fill="#bb2a2e"/>
<circle cx="47.5" cy="329.9" r="1.9" fill="#bb2a2e"/>
<circle cx="49" cy="329.9" r="1.9" fill="#bb2a2e"/>
<circle cx="50.5" cy="329.9" r="1.9" fill="#bb2a2e"/>
<circle cx="52" cy="329.9" r="1.9" fill="#bb2a2e"/>
<circle cx="53.5" cy="329.9" r="1.9" fill="#bb2a2e"/>
<circle cx="55" cy="329.9" r="1.9" fill="#bb2a2e"/>
<circle cx="56.5" cy="329.9" r="1.9" fill="#bb2a2e"/>
<circle cx="58" cy="329.9" r="1.9" fill="#bb2a2e"/>
<circle cx="59.5" cy="329.9" r="1.9" fill="#bb2a2e"/>
<circle cx="61" cy="329.9" r="1.9" fill="#bb2a2e"/>
<circle cx="62.5" cy="329.9" r="1.9" fill="#bb2a2e"/>
<circle cx="64" cy="329.9" r="1.9" fill="#bb2a2e"/>
<circle cx="65.5" cy="329.9" r="1.9" fill="#bb2a2e"/>
<circle cx="67" cy="329.9" r="1.9" fill="#bb2a2e"/>
<circle cx="68.5" cy="329.9" r="1.9" fill="#bb2a2e"/>
<circle cx="70" cy="329.9" r="1.9" fill="#bb2a2e"/>
<circle cx="71.5" cy="329.9" r="1.9" fill="#bb2a2e"/>
<circle cx="73" cy="329.9" r="1.9" fill="#bb2a2e"/>
<circle cx="74.5" cy="329.9" r="1.9" fill="#bb2a2e"/>
<circle cx="76" cy="329.9" r="1.9" fill="#bb2a2e"/>
<circle cx="77.5" cy="329.9" r="1.9" fill="#bb2a2e"/>
<circle cx="79" cy="329.9" r="1.9" fill="#bb2a2e"/>
<circle cx="80.5" cy="329.9" r="1.9" fill="#bb2a2e"/>
<circle cx="82" cy="329.9" r="1.9" fill="#bb2a2e"/>
<circle cx="83.5" cy="329.9" r="1.9" fill="#bb2a2e"/>
<circle cx="85" cy="329.9" r="1.9" fill="#bb2a2e"/>
<circle cx="86.5" cy="329.9" r="1.9" fill="#bb2a2e"/>
<circle cx="88" cy="329.9" r="1.9" fill="#bb2a2e"/>
<circle cx="89.5" cy="329.9" r="1.9" fill="#bb2a2e"/>
<circle cx="91" cy="329.9" r="1.9" fill="#bb2a2e"/>
<circle cx="92.5" cy="329.9" r="1.9" fill="#bb2a2e"/>
</g>
<line x1="71.5" y1="331.3" x2="346.5" y2="331.3" stroke="#a07078" stroke-width="1" stroke-opacity="0.6"/>
<text x="110" y="40.2" class="lb">cow-rumen-2</text>
<text x="189.7" y="47.1" class="lb">gut-2</text>
<text x="213.8" y="37.8" class="lb">SECIS-1</text>
<text x="234" y="21.3" class="lb">CyVA-1</text>
<text x="278" y="8" class="lb">int-alpA</text>
<text x="295.1" y="21.9" class="lb">c4-2</text>
<text x="338.5" y="16.6" class="lb">PhotoRC-II</text>
<text x="350.2" y="26.2" class="lb">tRNA</text>
<text x="309.8" y="35.4" class="lb">LOOT</text>
<text x="348.7" y="42.6" class="lb">RAGATH-18</text>
<text x="349.1" y="52.2" class="lb">group-II-D1D4-7</text>
<text x="348.7" y="65.8" class="lb">tmRNA</text>
<text x="348.7" y="75.5" class="lb">Bacteria-small-SRP</text>
<text x="51.2" y="68.4" class="lb">Clostridiales-2</text>
<text x="44" y="91.3" class="lb">SNORD96</text>
<text x="314.9" y="114.6" class="lb">ROOL</text>
<text x="335.1" y="127.9" class="lb">5S-rRNA</text>
<text x="293.1" y="138.6" class="lb">IMES-1</text>
<text x="280.6" y="150.5" class="lb">ykoK</text>
<text x="272.3" y="161.2" class="lb">ZMP-ZTP</text>
<text x="274.7" y="179.8" class="lb">manA</text>
<text x="39.8" y="200.9" class="lb">Telomerase-vert</text>
<text x="123.8" y="270.4" class="lb">Telomerase-cil</text>
<text x="228.5" y="228.6" class="lb">Metazoa-SRP</text>
<text x="226.6" y="239.7" class="lb">msiK</text>
<text x="247.3" y="256.5" class="lb">Fungi-SRP</text>
<text x="251.9" y="277.8" class="lb">Bacteria-large-SRP</text>
<text x="273.7" y="288.4" class="lb">mir-154</text>
<text x="209.3" y="294.4" class="lb">MIR480</text>
<text x="202.6" y="307.7" class="lb">Plant-SR</text>
<text x="161.8" y="314.7" class="lb">K-chan-RES</text>
<text x="167.9" y="325.1" class="lb">Prion-pknot</text>
<text x="226.7" y="324.8" class="lb">mir-1937</text>
<text x="272.5" y="324.8" class="lb">lsrR</text>
<line x1="285.2" y1="23.4" x2="292.6" y2="9.6" stroke="#7a7a7a" stroke-width="0.8"/>
<polygon points="292.6,9.6 292.2,13 289.9,11.8" fill="#7a7a7a"/>
<line x1="97.2" y1="248.8" x2="79.2" y2="202.6" stroke="#7a7a7a" stroke-width="0.8"/>
<polygon points="79.2,202.6 81.6,205.1 79.2,206.1" fill="#7a7a7a"/>
<line x1="125.3" y1="252" x2="132.8" y2="261.3" stroke="#7a7a7a" stroke-width="0.8"/>
<polygon points="132.8,261.3 129.8,259.6 131.8,258" fill="#7a7a7a"/>
<line x1="159.6" y1="328" x2="162.6" y2="316.8" stroke="#7a7a7a" stroke-width="0.8"/>
<polygon points="162.6,316.8 163,320.2 160.5,319.6" fill="#7a7a7a"/>
<line x1="346.5" y1="24.6" x2="350" y2="24.6" stroke="#7a7a7a" stroke-width="0.8"/>
<g transform="translate(349.5,327.5) rotate(-43)"><text x="0" y="0" class="an">&gt; 10% power but</text><text x="3.8" y="12.2" class="an">not covariations</text></g>
<text transform="translate(9.7,171) rotate(-90)" text-anchor="middle" class="at" style="font-size:13px">fraction of basepairs that covary (%)</text>
<text x="192.4" y="360.8" text-anchor="middle" class="at" style="font-size:12.4px">alignment power (%)</text>
<text x="188.5" y="372.6" text-anchor="middle" class="at" style="font-size:13px">(% of basepairs expected to covary)</text>
<text x="1.6" y="10.2" class="pl">(<tspan font-weight="bold">a</tspan>)</text>
<g transform="matrix(1,-0.00446,0,1,0,2.16)">
<rect x="484.4" y="24.9" width="303" height="303.2" fill="none" stroke="#8c8c8c" stroke-width="1"/>
<line x1="484.4" y1="328.1" x2="484.4" y2="332.9" stroke="#8c8c8c" stroke-width="1"/>
<line x1="484.4" y1="24.9" x2="484.4" y2="20.1" stroke="#8c8c8c" stroke-width="1"/>
<line x1="484.4" y1="328.1" x2="479.6" y2="328.1" stroke="#8c8c8c" stroke-width="1"/>
<line x1="787.4" y1="328.1" x2="792.2" y2="328.1" stroke="#8c8c8c" stroke-width="1"/>
<text transform="translate(475.3,330.6) scale(1,1.12)" text-anchor="end" class="tk">0</text>
<text transform="translate(484.4,345.3) scale(1,1.12)" text-anchor="middle" class="tk">0</text>
<line x1="546.4" y1="328.1" x2="546.4" y2="332.9" stroke="#8c8c8c" stroke-width="1"/>
<line x1="545" y1="24.9" x2="545" y2="20.1" stroke="#8c8c8c" stroke-width="1"/>
<line x1="484.4" y1="267.5" x2="479.6" y2="267.5" stroke="#8c8c8c" stroke-width="1"/>
<line x1="787.4" y1="267.5" x2="792.2" y2="267.5" stroke="#8c8c8c" stroke-width="1"/>
<text transform="translate(477.5,272) scale(1,1.12)" text-anchor="end" class="tk">20</text>
<line x1="606.6" y1="328.1" x2="606.6" y2="332.9" stroke="#8c8c8c" stroke-width="1"/>
<line x1="605.6" y1="24.9" x2="605.6" y2="20.1" stroke="#8c8c8c" stroke-width="1"/>
<line x1="484.4" y1="206.8" x2="479.6" y2="206.8" stroke="#8c8c8c" stroke-width="1"/>
<line x1="787.4" y1="206.8" x2="792.2" y2="206.8" stroke="#8c8c8c" stroke-width="1"/>
<text transform="translate(477.5,211.3) scale(1,1.12)" text-anchor="end" class="tk">40</text>
<text transform="translate(606.6,345.3) scale(1,1.12)" text-anchor="middle" class="tk">40</text>
<line x1="667" y1="328.1" x2="667" y2="332.9" stroke="#8c8c8c" stroke-width="1"/>
<line x1="666.2" y1="24.9" x2="666.2" y2="20.1" stroke="#8c8c8c" stroke-width="1"/>
<line x1="484.4" y1="146.2" x2="479.6" y2="146.2" stroke="#8c8c8c" stroke-width="1"/>
<line x1="787.4" y1="146.2" x2="792.2" y2="146.2" stroke="#8c8c8c" stroke-width="1"/>
<text transform="translate(477.5,150.7) scale(1,1.12)" text-anchor="end" class="tk">60</text>
<text transform="translate(667,345.3) scale(1,1.12)" text-anchor="middle" class="tk">60</text>
<line x1="729.2" y1="328.1" x2="729.2" y2="332.9" stroke="#8c8c8c" stroke-width="1"/>
<line x1="726.8" y1="24.9" x2="726.8" y2="20.1" stroke="#8c8c8c" stroke-width="1"/>
<line x1="484.4" y1="85.5" x2="479.6" y2="85.5" stroke="#8c8c8c" stroke-width="1"/>
<line x1="787.4" y1="85.5" x2="792.2" y2="85.5" stroke="#8c8c8c" stroke-width="1"/>
<text transform="translate(477.5,90) scale(1,1.12)" text-anchor="end" class="tk">80</text>
<text transform="translate(729.2,345.3) scale(1,1.12)" text-anchor="middle" class="tk">80</text>
<line x1="787.4" y1="328.1" x2="787.4" y2="332.9" stroke="#8c8c8c" stroke-width="1"/>
<line x1="787.4" y1="24.9" x2="787.4" y2="20.1" stroke="#8c8c8c" stroke-width="1"/>
<line x1="484.4" y1="24.9" x2="479.6" y2="24.9" stroke="#8c8c8c" stroke-width="1"/>
<line x1="787.4" y1="24.9" x2="792.2" y2="24.9" stroke="#8c8c8c" stroke-width="1"/>
<text transform="translate(477.5,29.4) scale(1,1.12)" text-anchor="end" class="tk">100</text>
<text transform="translate(787.4,345.3) scale(1,1.12)" text-anchor="middle" class="tk">100</text>
</g>
<text transform="translate(455.2,170) rotate(-90)" text-anchor="middle" class="at" style="font-size:13px">fraction of basepairs that covary (%)</text>
<text x="651.6" y="361.6" text-anchor="middle" class="at" style="font-size:13px">alignment power (%)</text>
<text x="463.2" y="10.2" class="pl">(<tspan font-weight="bold">b</tspan>)</text>
<circle cx="485.4" cy="326.8" r="1.7" fill="#e8141c"/>
<circle cx="487.6" cy="325.8" r="1.7" fill="#e8141c"/>
<circle cx="489.2" cy="326.9" r="1.7" fill="#e8141c"/>
<circle cx="494.7" cy="327" r="1.6" fill="#e8141c"/>
<circle cx="537.1" cy="327" r="1.6" fill="#e8141c"/>
<circle cx="545" cy="327" r="1.6" fill="#e8141c"/>
<circle cx="549.7" cy="327" r="1.6" fill="#e8141c"/>
<circle cx="556.9" cy="327" r="1.6" fill="#e8141c"/>
<circle cx="561" cy="327" r="1.6" fill="#e8141c"/>
<circle cx="570.3" cy="327" r="1.6" fill="#e8141c"/>
<circle cx="576.6" cy="327" r="1.6" fill="#e8141c"/>
<circle cx="582.3" cy="326.8" r="1.8" fill="#e8141c"/>
<circle cx="584.6" cy="326.6" r="1.8" fill="#e8141c"/>
<circle cx="603.2" cy="327" r="1.6" fill="#e8141c"/>
<circle cx="611" cy="327" r="1.6" fill="#e8141c"/>
<circle cx="618.2" cy="327" r="1.6" fill="#e8141c"/>
<circle cx="631.7" cy="327.1" r="1.6" fill="#e8141c"/>
<circle cx="667.9" cy="326.9" r="2.2" fill="#e8141c"/>
<text transform="translate(491.0,319.0) rotate(-51)" class="rb" fill="#e02424">COOLAIR</text>
<text transform="translate(531.5,326.8) rotate(-51)" class="rb" fill="#4b2ccf">HOTAIR D2</text>
<text transform="translate(551.0,323.8) rotate(-51)" class="rb" fill="#d19b3a">ncSRA</text>
<text transform="translate(576.4,321.6) rotate(-51)" class="rb" fill="#4b2ccf">HOTAIR D3</text>
<text transform="translate(588.3,324.7) rotate(-51)" class="rb" fill="#22946c">repA lncRNA</text>
<text transform="translate(601.5,321.6) rotate(-51)" class="rb" fill="#4b2ccf">HOTAIR D1 <tspan fill="#22946c">XIST h1</tspan></text>
<text transform="translate(613.0,324.0) rotate(-51)" class="rb" fill="#262626">XIST h8</text>
<text transform="translate(623.8,324.0) rotate(-51)" class="rb" fill="#262626">XIST h7</text>
<text transform="translate(637.0,322.8) rotate(-51)" class="rb" fill="#262626">XIST h4</text>
<text transform="translate(669.3,323.5) rotate(-51)" class="rb" fill="#262626">XIST h2</text>
<text transform="translate(538.8,336.5) rotate(51)" class="rb" fill="#262626">XIST h6</text>
<text transform="translate(553.0,335.0) rotate(51)" class="rb" fill="#4b2ccf">HOTAIR D4</text>
<text x="619.6" y="40.8" class="tb" fill="#262626">Alignment</text>
<text x="703" y="32.8" class="tb" text-anchor="end" fill="#262626">#</text>
<text x="709.6" y="40.8" class="tb" text-anchor="end" fill="#262626">seqs</text>
<text x="720.5" y="32.8" class="tb" text-anchor="end" fill="#262626">%</text>
<text x="721.3" y="40.8" class="tb" text-anchor="end" fill="#262626">ID</text>
<text x="739" y="32.8" class="tb" text-anchor="end" fill="#262626">tot</text>
<text x="739" y="40.8" class="tb" text-anchor="end" fill="#262626">bp</text>
<text x="768" y="32.8" class="tb" text-anchor="end" fill="#262626">cov</text>
<text x="766" y="40.8" class="tb" text-anchor="end" fill="#262626">exp</text>
<text x="781.5" y="32.8" class="tb" text-anchor="end" fill="#262626">bp</text>
<text x="785.5" y="40.8" class="tb" text-anchor="end" fill="#262626">obs</text>
<line x1="619.6" y1="43.4" x2="785.6" y2="43.4" stroke="#333" stroke-width="1"/>
<text x="619.8" y="55.6" class="tb" fill="#4b2ccf">HOTAIR&#160;&#160;D1</text>
<text x="705.8" y="55.6" class="tb" text-anchor="end" fill="#262626">37</text>
<text x="721.3" y="55.6" class="tb" text-anchor="end" fill="#262626">74</text>
<text x="741.4" y="55.6" class="tb" text-anchor="end" fill="#262626">149</text>
<text x="767.8" y="55.6" class="tb" text-anchor="end" fill="#262626">48.4</text>
<text x="779.5" y="55.6" class="tb" text-anchor="end" fill="#262626">0</text>
<text x="619.8" y="63.6" class="tb" fill="#4b2ccf">HOTAIR&#160;&#160;D2</text>
<text x="705.8" y="63.6" class="tb" text-anchor="end" fill="#262626">31</text>
<text x="721.3" y="63.6" class="tb" text-anchor="end" fill="#262626">74</text>
<text x="741.4" y="63.6" class="tb" text-anchor="end" fill="#262626">134</text>
<text x="767.8" y="63.6" class="tb" text-anchor="end" fill="#262626">23.0</text>
<text x="779.5" y="63.6" class="tb" text-anchor="end" fill="#262626">0</text>
<text x="619.8" y="71.6" class="tb" fill="#4b2ccf">HOTAIR&#160;&#160;D3</text>
<text x="705.8" y="71.6" class="tb" text-anchor="end" fill="#262626">34</text>
<text x="721.3" y="71.6" class="tb" text-anchor="end" fill="#262626">68</text>
<text x="741.4" y="71.6" class="tb" text-anchor="end" fill="#262626">125</text>
<text x="767.8" y="71.6" class="tb" text-anchor="end" fill="#262626">41.4</text>
<text x="779.5" y="71.6" class="tb" text-anchor="end" fill="#262626">0</text>
<text x="619.8" y="79.6" class="tb" fill="#4b2ccf">HOTAIR&#160;&#160;D4</text>
<text x="705.8" y="79.6" class="tb" text-anchor="end" fill="#262626">31</text>
<text x="721.3" y="79.6" class="tb" text-anchor="end" fill="#262626">69</text>
<text x="741.4" y="79.6" class="tb" text-anchor="end" fill="#262626">165</text>
<text x="767.8" y="79.6" class="tb" text-anchor="end" fill="#262626">38.6</text>
<text x="779.5" y="79.6" class="tb" text-anchor="end" fill="#262626">0</text>
<text x="619.8" y="92.6" class="tb" fill="#d19b3a">ncSRA</text>
<text x="705.8" y="92.6" class="tb" text-anchor="end" fill="#262626">76</text>
<text x="721.3" y="92.6" class="tb" text-anchor="end" fill="#262626">78</text>
<text x="741.4" y="92.6" class="tb" text-anchor="end" fill="#262626">234</text>
<text x="767.8" y="92.6" class="tb" text-anchor="end" fill="#262626">49.7</text>
<text x="779.5" y="92.6" class="tb" text-anchor="end" fill="#262626">0</text>
<text x="619.8" y="105.5" class="tb" fill="#22946c">RepA lncRNA</text>
<text x="705.8" y="105.5" class="tb" text-anchor="end" fill="#262626">57</text>
<text x="721.3" y="105.5" class="tb" text-anchor="end" fill="#262626">68</text>
<text x="741.4" y="105.5" class="tb" text-anchor="end" fill="#262626">334</text>
<text x="767.8" y="105.5" class="tb" text-anchor="end" fill="#262626">108.6</text>
<text x="779.5" y="105.5" class="tb" text-anchor="end" fill="#262626">1</text>
<text x="619.8" y="113.4" class="tb" fill="#22946c">XIST h1 (repA,F)</text>
<text x="705.8" y="113.4" class="tb" text-anchor="end" fill="#262626">65</text>
<text x="721.3" y="113.4" class="tb" text-anchor="end" fill="#262626">68</text>
<text x="741.4" y="113.4" class="tb" text-anchor="end" fill="#262626">254</text>
<text x="767.8" y="113.4" class="tb" text-anchor="end" fill="#262626">100.7</text>
<text x="779.5" y="113.4" class="tb" text-anchor="end" fill="#262626">0</text>
<text x="619.8" y="126.6" class="tb" fill="#262626">XIST h2 (repB,C)</text>
<text x="705.8" y="126.6" class="tb" text-anchor="end" fill="#262626">52</text>
<text x="721.3" y="126.6" class="tb" text-anchor="end" fill="#262626">68</text>
<text x="741.4" y="126.6" class="tb" text-anchor="end" fill="#262626">41</text>
<text x="767.8" y="126.6" class="tb" text-anchor="end" fill="#262626">25.1</text>
<text x="779.5" y="126.6" class="tb" text-anchor="end" fill="#262626">0</text>
<text x="619.8" y="134.6" class="tb" fill="#262626">XIST h3</text>
<text x="705.8" y="134.6" class="tb" text-anchor="end" fill="#262626">55</text>
<text x="721.3" y="134.6" class="tb" text-anchor="end" fill="#262626">68</text>
<text x="741.4" y="134.6" class="tb" text-anchor="end" fill="#262626">53</text>
<text x="767.8" y="134.6" class="tb" text-anchor="end" fill="#262626">16.2</text>
<text x="779.5" y="134.6" class="tb" text-anchor="end" fill="#262626">0</text>
<text x="619.8" y="142.6" class="tb" fill="#262626">XIST h4</text>
<text x="705.8" y="142.6" class="tb" text-anchor="end" fill="#262626">61</text>
<text x="721.3" y="142.6" class="tb" text-anchor="end" fill="#262626">60</text>
<text x="741.4" y="142.6" class="tb" text-anchor="end" fill="#262626">64</text>
<text x="767.8" y="142.6" class="tb" text-anchor="end" fill="#262626">28.6</text>
<text x="779.5" y="142.6" class="tb" text-anchor="end" fill="#262626">0</text>
<text x="619.8" y="150.6" class="tb" fill="#262626">XIST h5</text>
<text x="705.8" y="150.6" class="tb" text-anchor="end" fill="#262626">55</text>
<text x="721.3" y="150.6" class="tb" text-anchor="end" fill="#262626">70</text>
<text x="741.4" y="150.6" class="tb" text-anchor="end" fill="#262626">63</text>
<text x="767.8" y="150.6" class="tb" text-anchor="end" fill="#262626">18.4</text>
<text x="779.5" y="150.6" class="tb" text-anchor="end" fill="#262626">0</text>
<text x="619.8" y="158.6" class="tb" fill="#262626">XIST h6</text>
<text x="705.8" y="158.6" class="tb" text-anchor="end" fill="#262626">56</text>
<text x="721.3" y="158.6" class="tb" text-anchor="end" fill="#262626">79</text>
<text x="741.4" y="158.6" class="tb" text-anchor="end" fill="#262626">112</text>
<text x="767.8" y="158.6" class="tb" text-anchor="end" fill="#262626">20.7</text>
<text x="779.5" y="158.6" class="tb" text-anchor="end" fill="#262626">0</text>
<text x="619.8" y="166.6" class="tb" fill="#262626">XIST h7</text>
<text x="705.8" y="166.6" class="tb" text-anchor="end" fill="#262626">73</text>
<text x="721.3" y="166.6" class="tb" text-anchor="end" fill="#262626">61</text>
<text x="741.4" y="166.6" class="tb" text-anchor="end" fill="#262626">123</text>
<text x="767.8" y="166.6" class="tb" text-anchor="end" fill="#262626">50.4</text>
<text x="779.5" y="166.6" class="tb" text-anchor="end" fill="#262626">0</text>
<text x="619.8" y="174.6" class="tb" fill="#262626">XIST h8 (repE)</text>
<text x="705.8" y="174.6" class="tb" text-anchor="end" fill="#262626">60</text>
<text x="721.3" y="174.6" class="tb" text-anchor="end" fill="#262626">66</text>
<text x="741.4" y="174.6" class="tb" text-anchor="end" fill="#262626">89</text>
<text x="767.8" y="174.6" class="tb" text-anchor="end" fill="#262626">34.7</text>
<text x="779.5" y="174.6" class="tb" text-anchor="end" fill="#262626">0</text>
<text x="619.8" y="182.6" class="tb" fill="#262626">XIST h9</text>
<text x="705.8" y="182.6" class="tb" text-anchor="end" fill="#262626">47</text>
<text x="721.3" y="182.6" class="tb" text-anchor="end" fill="#262626">70</text>
<text x="741.4" y="182.6" class="tb" text-anchor="end" fill="#262626">32</text>
<text x="767.8" y="182.6" class="tb" text-anchor="end" fill="#262626">7.2</text>
<text x="779.5" y="182.6" class="tb" text-anchor="end" fill="#262626">0</text>
<text x="619.8" y="190.6" class="tb" fill="#262626">XIST h10</text>
<text x="705.8" y="190.6" class="tb" text-anchor="end" fill="#262626">59</text>
<text x="721.3" y="190.6" class="tb" text-anchor="end" fill="#262626">73</text>
<text x="741.4" y="190.6" class="tb" text-anchor="end" fill="#262626">61</text>
<text x="767.8" y="190.6" class="tb" text-anchor="end" fill="#262626">15.9</text>
<text x="779.5" y="190.6" class="tb" text-anchor="end" fill="#262626">0</text>
<text x="619.8" y="198.6" class="tb" fill="#262626">XIST h1-h10</text>
<text x="705.8" y="198.6" class="tb" text-anchor="end" fill="#262626">32</text>
<text x="721.3" y="198.6" class="tb" text-anchor="end" fill="#262626">72</text>
<text x="741.4" y="198.6" class="tb" text-anchor="end" fill="#262626">980</text>
<text x="767.8" y="198.6" class="tb" text-anchor="end" fill="#262626">141.3</text>
<text x="779.5" y="198.6" class="tb" text-anchor="end" fill="#262626">0</text>
<text x="619.8" y="209.7" class="tb" fill="#e02424">COOLAIR</text>
<text x="705.8" y="209.7" class="tb" text-anchor="end" fill="#262626">6</text>
<text x="721.3" y="209.7" class="tb" text-anchor="end" fill="#262626">80</text>
<text x="741.4" y="209.7" class="tb" text-anchor="end" fill="#262626">166</text>
<text x="767.8" y="209.7" class="tb" text-anchor="end" fill="#262626">0.8</text>
<text x="779.5" y="209.7" class="tb" text-anchor="end" fill="#262626">1</text>
</svg></body></html>
